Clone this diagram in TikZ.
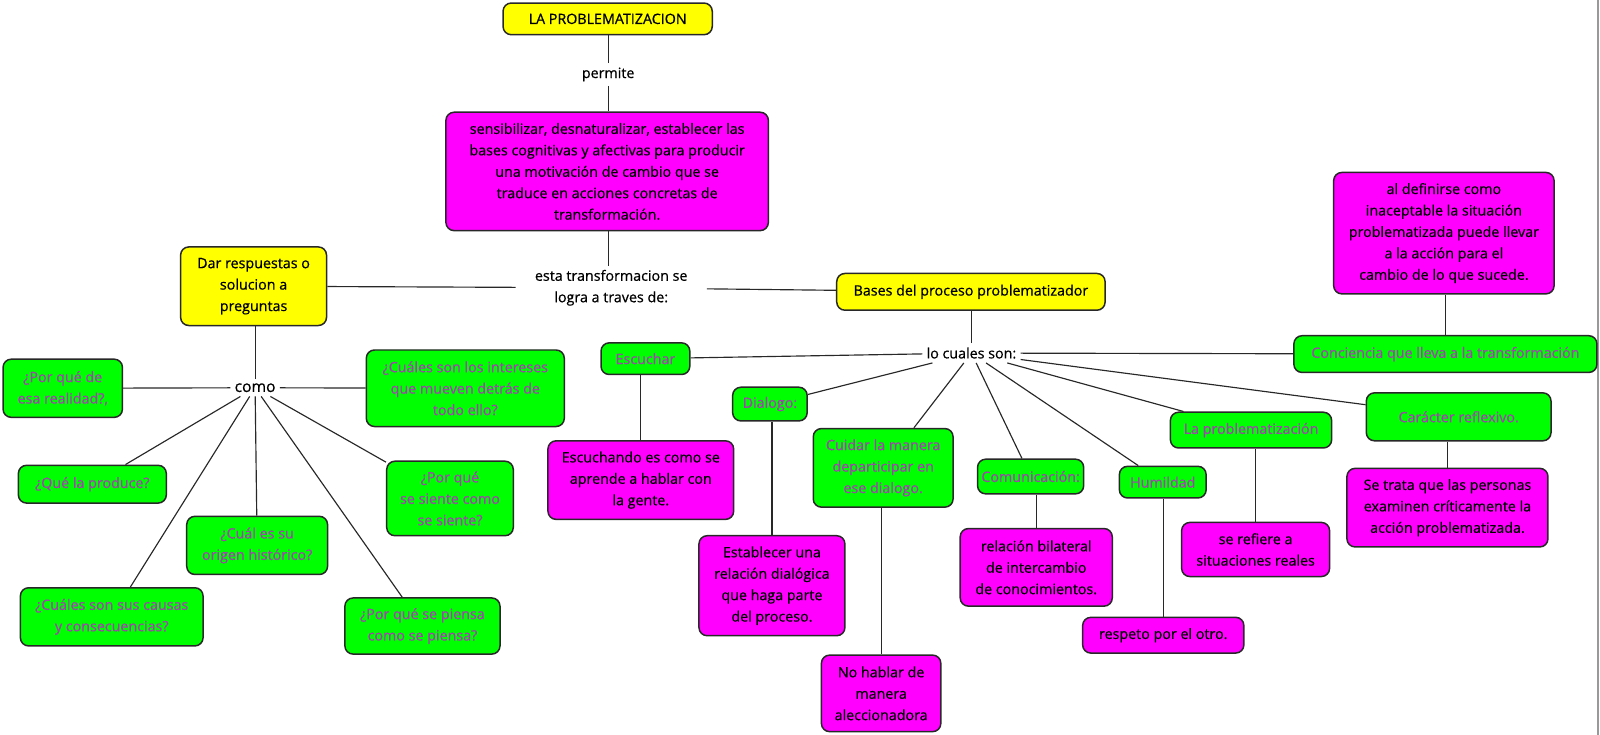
\documentclass[tikz,border=0pt]{standalone}
\usepackage{fontspec}
\setmainfont{Open Sans}[FakeBold=0.6]
\definecolor{cy}{RGB}{255,255,0}
\definecolor{cm}{RGB}{255,0,255}
\definecolor{cg}{RGB}{0,255,0}
\definecolor{cgt}{RGB}{158,68,172}
\definecolor{cline}{RGB}{40,40,40}
\tikzset{
  box/.style={draw=cline, line width=1.1pt, rounded corners=6pt, align=center, inner sep=2pt, font=\fontsize{10.5}{15.75}\selectfont},
  ybox/.style={box, fill=cy},
  mbox/.style={box, fill=cm},
  gbox/.style={box, fill=cg, text=cgt},
  sz/.style 2 args={minimum width=#1*0.75pt, minimum height=#2*0.75pt},
  lbl/.style={align=center, inner sep=3pt, font=\fontsize{10.5}{15.75}\selectfont},
  conn/.style={draw=cline, line width=0.85pt}
}
\begin{document}
\begin{tikzpicture}[x=0.75pt,y=-0.75pt]
\useasboundingbox (0,0) rectangle (1568,720);
\draw[line width=1.2pt, draw=black!40] (1566,0) -- (1566,720);

% top
\node[ybox, sz={205}{31}] (title) at (595.5,18.5) {LA PROBLEMATIZACION};
\node[lbl] (permite) at (596,73) {permite};
\node[mbox, sz={316}{116}] (sens) at (595,168) {sensibilizar, desnaturalizar, establecer las\\bases cognitivas y afectivas para producir\\una motivación de cambio que se\\traduce en acciones concretas de\\transformación.};
\node[lbl, minimum width=187*0.75pt] (esta) at (599,282) {esta transformacion se\\logra a traves de:};
\node[ybox, sz={143}{77}] (dar) at (248.5,280.5) {Dar respuestas o\\solucion a\\preguntas};
\node[ybox, sz={263}{36}] (bases) at (951.5,286) {Bases del proceso problematizador};
\node[lbl] (lc) at (952,346) {lo cuales son:};
\node[lbl, font=\fontsize{11.5}{14}\selectfont] (como) at (250,380) {como};

% left questions
\node[gbox, sz={117}{57}] (pq1) at (61.5,380.5) {¿Por qué de\\esa realidad?,};
\node[gbox, sz={194}{75}] (cint) at (456,380.5) {¿Cuáles son los intereses\\que mueven detrás de\\todo ello?};
\node[gbox, sz={145}{37}] (qlp) at (90.5,474.5) {¿Qué la produce?};
\node[gbox, sz={138}{57}] (corig) at (252,534.5) {¿Cuál es su\\origen histórico?};
\node[gbox, sz={179}{57}] (ccaus) at (109.5,604.5) {¿Cuáles son sus causas\\y consecuencias?};
\node[gbox, sz={124}{73}] (psiente) at (441,488.5) {¿Por qué\\se siente como\\se siente?};
\node[gbox, sz={152}{55}] (ppiensa) at (414,613.5) {¿Por qué se piensa\\como se piensa?};

% right branch
\node[gbox, sz={87}{31}] (esc) at (632.5,351.5) {Escuchar};
\node[mbox, sz={182}{77}] (escu) at (628,470.5) {Escuchando es como se\\aprende a hablar con\\la gente.};
\node[gbox, sz={73}{33}] (dial) at (754.5,396) {Dialogo:};
\node[mbox, sz={143}{98}] (estab) at (756.5,574) {Establecer una\\relación dialógica\\que haga parte\\del proceso.};
\node[gbox, sz={137}{77}] (cuid) at (865.5,458.5) {Cuidar la manera\\departicipar en\\ese dialogo.};
\node[mbox, sz={117}{75}] (nohab) at (863.5,679.5) {No hablar de\\manera\\aleccionadora};
\node[gbox, sz={104}{34}] (comu) at (1010,467) {Comunicación:};
\node[mbox, sz={149}{76}] (relb) at (1015.5,556) {relación bilateral\\de intercambio\\de conocimientos.};
\node[gbox, sz={85}{31}] (humi) at (1139.5,472.5) {Humildad};
\node[mbox, sz={158}{35}] (resp) at (1140,622.5) {respeto por el otro.};
\node[gbox, sz={158}{35}] (lprob) at (1226,421.5) {La problematización};
\node[mbox, sz={145}{53}] (seref) at (1230.5,538.5) {se refiere a\\situaciones reales};
\node[gbox, sz={181}{47}] (carac) at (1429.5,408.5) {Carácter reflexivo.};
\node[mbox, sz={197}{77}] (setrata) at (1418.5,497.5) {Se trata que las personas\\examinen críticamente la\\acción problematizada.};
\node[gbox, sz={297}{36}] (conc) at (1416.5,347) {Conciencia que lleva a la transformación};
\node[mbox, sz={216}{119}] (aldef) at (1415,228.5) {al definirse como\\inaceptable la situación\\problematizada puede llevar\\a la acción para el\\cambio de lo que sucede.};

% connectors top
\draw[conn] (permite.north) -- (permite.north |- title.south);
\draw[conn] (permite.south) -- (permite.south |- sens.north);
\draw[conn] (sens.south -| permite.south) -- (permite.south |- esta.north);
\draw[conn] (dar) -- (esta);
\draw[conn] (esta) -- (bases);
\draw[conn] (lc.north) -- (lc.north |- bases.south);
\draw[conn] (como.north) -- (como.north |- dar.south);

% como
\foreach \n in {pq1,cint,qlp,corig,ccaus,psiente,ppiensa}
  \draw[conn] (como) -- (\n);

% lo cuales son
\foreach \n in {esc,dial,cuid,comu,humi,lprob,carac,conc}
  \draw[conn] (lc) -- (\n);

% children
\draw[conn] (escu.north) -- (escu.north |- esc.south);
\draw[conn] (estab.north) -- (estab.north |- dial.south);
\draw[conn] (nohab.north) -- (nohab.north |- cuid.south);
\draw[conn] (relb.north) -- (relb.north |- comu.south);
\draw[conn] (resp.north) -- (resp.north |- humi.south);
\draw[conn] (seref.north) -- (seref.north |- lprob.south);
\draw[conn] (setrata.north) -- (setrata.north |- carac.south);
\draw[conn] (conc.north) -- (conc.north |- aldef.south);
\end{tikzpicture}
\end{document}
